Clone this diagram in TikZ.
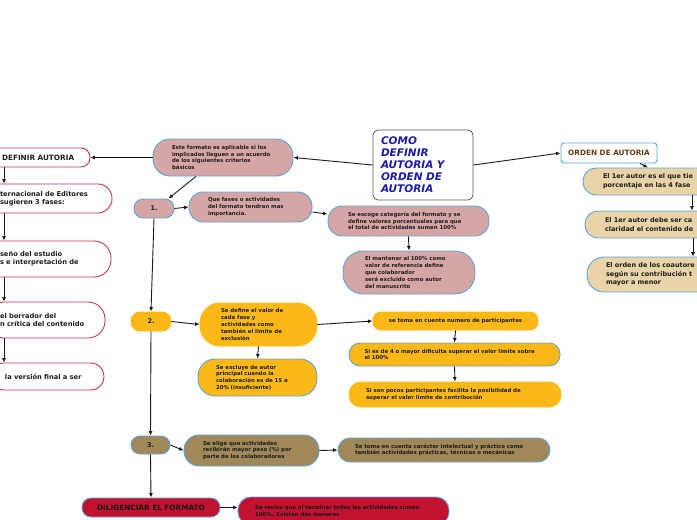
\documentclass[tikz,border=0pt]{standalone}
\usepackage{fontspec}
\setmainfont{DejaVu Sans}
\usetikzlibrary{arrows.meta}
\definecolor{rosado}{HTML}{D6A5A5}
\definecolor{borde}{HTML}{5AA5DC}
\definecolor{amarillo}{HTML}{FBB917}
\definecolor{cafe}{HTML}{A08858}
\definecolor{carmin}{HTML}{C2122F}
\definecolor{arena}{HTML}{E9D4A8}
\definecolor{rojoborde}{HTML}{CC3352}
\definecolor{azultit}{HTML}{1B1BA8}
\definecolor{marron}{HTML}{6B3A12}
\begin{document}
\begin{tikzpicture}[x=1pt, y=-1pt, font=\bfseries,
  sz/.style n args={3}{minimum width=#1pt, minimum height=#2pt, rounded corners=#3pt},
  caja/.style={draw=borde, line width=0.9pt, inner sep=0pt, align=left, text=black!88},
  amar/.style={fill=amarillo, draw=amarillo, line width=0.9pt, inner sep=0pt, align=left, text=black!88},
  izq/.style={draw=rojoborde, fill=white, line width=0.9pt, inner sep=0pt, align=left, text=black!88,
    font=\bfseries\fontsize{6.7}{8}\selectfont},
  chico/.style={font=\bfseries\fontsize{5.4}{6.8}\selectfont},
  chicow/.style={font=\bfseries\fontsize{5.4}{6.2}\selectfont},
  der/.style={font=\bfseries\fontsize{6.5}{9}\selectfont},
  titulo/.style={font=\bfseries\fontsize{7.3}{8}\selectfont},
  num/.style={font=\bfseries\fontsize{6.5}{7}\selectfont, align=center},
  arr/.style={-{Latex[length=4.5pt,width=4pt]}, line width=0.9pt, black!90}]
  \useasboundingbox (0,0) rectangle (697,520);
  \clip (0,0) rectangle (697,520);
  % titulo
  \node[draw=gray!70!black, fill=white, line width=0.8pt, rounded corners=5pt, inner sep=0pt,
    minimum width=100pt, minimum height=70pt, text width=84pt, align=left, text=azultit,
    font=\bfseries\itshape\fontsize{10.5}{12}\selectfont] (tit) at (423,165)
    {COMO\\DEFINIR\\AUTORIA Y\\ORDEN DE\\AUTORIA};
  % rama izquierda
  \node[caja, fill=rosado, chico, sz={140}{37}{17}, text width=102pt] (este) at (223,157.5)
    {Este formato es aplicable si los\\implicados lleguen a un acuerdo\\de los siguientes criterios\\básicos};
  \node[izq, titulo, sz={100}{19}{9}, text width=76pt] (definir) at (40,157.5) {DEFINIR AUTORIA};
  \node[izq, sz={128}{29}{14}, text width=96pt] (fases) at (48,198.5) {ternacional de Editores\\sugieren 3 fases:};
  \node[izq, sz={130}{36}{17}, text width=92pt] (diseno) at (46,259) {seño del estudio\\s e interpretación de};
  \node[izq, sz={118}{36}{17}, text width=92pt] (borrador) at (46,320) {el borrador del\\n crítica del contenido};
  \node[izq, sz={114}{27}{13}, text width=84pt] (final) at (47,376.5) {la versión final a ser};
  % fase 1
  \node[caja, fill=rosado, num, sz={40}{19}{9}] (uno) at (154,208.5) {1.};
  \node[caja, fill=rosado, chico, sz={123}{30}{14}, text width=85pt] (quefases) at (250.5,207)
    {Que fases o actividades\\del formato tendran mas\\importancia.};
  \node[caja, fill=rosado, chico, sz={161}{30}{14}, text width=121pt] (escoge) at (408.5,221)
    {Se escoge categoría del formato y se\\define valores porcentuales para que\\el total de actividades sumen 100\%};
  \node[caja, fill=rosado, chico, sz={132}{43}{20}, text width=88pt] (mantener) at (409,272.5)
    {El mantener al 100\% como\\valor de referencia define\\que colaborador\\será excluido como autor\\del manuscrito};
  % fase 2
  \node[amar, num, sz={40}{19}{9}] (dos) at (151,321.5) {2.};
  \node[amar, chico, sz={117}{43}{20}, text width=75pt] (define) at (258.5,324.5)
    {Se define el valor de\\cada fase y\\actividades como\\también el limite de\\exclusión};
  \node[amar, draw=borde, chico, sz={119}{37}{17}, text width=83pt] (excluye) at (257.5,377.5)
    {Se excluye de autor\\principal cuando la\\colaboración es de 15 a\\20\% (insuficiente)};
  \node[amar, chico, sz={165}{18}{8}] (participantes) at (455.5,321) {se toma en cuenta numero de participantes};
  \node[amar, draw=borde, chicow, sz={211}{23}{11}, text width=180pt] (mayor) at (454.5,354.5)
    {Si es de 4 o mayor dificulta superar el valor limite sobre\\el 100\%};
  \node[amar, chicow, sz={212}{25}{12}, text width=178pt] (pocos) at (455,394.5)
    {Si son pocos participantes facilita la posibilidad de\\superar el valor limite de contribución};
  % fase 3
  \node[caja, fill=cafe, num, sz={39}{18}{9}] (tres) at (150.5,445) {3.};
  \node[caja, fill=cafe, chico, sz={135}{31}{15}, text width=97pt] (elige) at (251.5,450.5)
    {Se elige que actividades\\recibirán mayor peso (\%) por\\parte de los colaboradores};
  \node[caja, fill=cafe, chicow, sz={212}{24}{12}, text width=178pt] (caracter) at (444,450)
    {Se toma en cuenta carácter intelectual y práctico como\\también actividades prácticas, técnicas o mecánicas};
  % diligenciar
  \node[caja, fill=carmin, titulo, sz={138}{19}{9}, text=black!90] (diligenciar) at (151,507.5)
    {DILIGENCIAR EL FORMATO};
  \node[caja, fill=carmin, chicow, sz={211}{28}{13}, text width=177pt, text=black!90] (revisa) at (343.5,511)
    {Se revisa que al terminar todas las actividades sumen\\100\%. Existen dos maneras};
  % rama derecha
  \node[caja, fill=white, titulo, sz={96}{20}{3}, text=marron] (orden) at (609,153) {ORDEN DE AUTORIA};
  \node[caja, fill=arena, der, sz={217}{27}{13}, text width=177pt] (primero) at (691.5,181.5)
    {El 1er autor es el que tie\\porcentaje en las 4 fase};
  \node[caja, fill=arena, der, sz={215}{27}{13}, text width=175pt] (debe) at (692.5,224.5)
    {El 1er autor debe ser ca\\claridad el contenido de};
  \node[caja, fill=arena, der, sz={213}{35}{17}, text width=175pt, font=\bfseries\fontsize{6.5}{8.5}\selectfont] (coautores) at (693.5,274.5)
    {El orden de los coautore\\según su contribución t\\mayor a menor};
  % conectores
  \draw[arr] (tit.west) -- (este.east);
  \draw[arr] (tit.east) -- (orden.west);
  \draw[arr] (este.west) -- (definir.east);
  \draw[arr] (definir.south -| 4,0) -- (fases.north -| 4,0);
  \draw[arr] (fases.south -| 4,0) -- (diseno.north -| 4,0);
  \draw[arr] (diseno.south -| 4,0) -- (borrador.north -| 4,0);
  \draw[arr] (borrador.south -| 4,0) -- (final.north -| 4,0);
  \draw[arr] ([xshift=-27pt]este.south) -- ([xshift=-6pt]uno.north east);
  \draw[arr] (uno.east) -- (quefases.west);
  \draw[arr] ([yshift=-5pt]quefases.east) -- ([yshift=7pt]escoge.west);
  \draw[arr] (escoge.south) -- (mantener.north);
  \draw[arr] (uno.south) -- (dos.north);
  \draw[arr] (dos.east) -- (define.west);
  \draw[arr] (define.east) -- (participantes.west);
  \draw[arr] (define.south) -- (excluye.north);
  \draw[arr] (participantes.south) -- (mayor.north);
  \draw[arr] (mayor.south) -- (pocos.north);
  \draw[arr] (dos.south) -- (tres.north);
  \draw[arr] (tres.east) -- (elige.west);
  \draw[arr] (elige.east) -- (caracter.west);
  \draw[arr] (tres.south) -- (diligenciar.north);
  \draw[arr] (diligenciar.east) -- (diligenciar.east -| revisa.west);
  \draw[arr] (orden.south -| 640,0) -- (primero.north -| 648,0);
  \draw[arr] (primero.south -| 692,0) -- (debe.north -| 692,0);
  \draw[arr] (debe.south -| 693,0) -- (coautores.north -| 693,0);
\end{tikzpicture}
\end{document}
